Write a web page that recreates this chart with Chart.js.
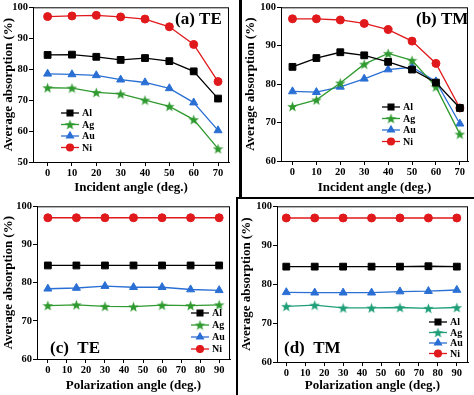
<!DOCTYPE html>
<html lang="en-US">
<head>
<meta charset="UTF-8">
<title>Average absorption</title>
<script src="https://cdn.jsdelivr.net/npm/chart.js@4.4.0/dist/chart.umd.min.js"></script>
<style>
    body { margin: 0; background: #fff; }
    #wrap { position: relative; width: 474px; height: 395px; overflow: hidden; }
    canvas { position: absolute; }
    .sep { position: absolute; background: #000; }
</style>
</head>
<body>
<div id="wrap">
    <canvas id="chartA" width="239" height="197" style="left:0;top:0"></canvas>
    <canvas id="chartB" width="232" height="197" style="left:242px;top:0"></canvas>
    <canvas id="chartC" width="236" height="196" style="left:0;top:199px"></canvas>
    <canvas id="chartD" width="236" height="196" style="left:238px;top:199px"></canvas>
    <div class="sep" style="left:239px;top:0;width:3px;height:198px"></div>
    <div class="sep" style="left:236px;top:197px;width:238px;height:2px"></div>
    <div class="sep" style="left:236px;top:197px;width:2px;height:198px"></div>
</div>

<script>
    // x values
    var incAngle = [0, 10, 20, 30, 40, 50, 60, 70];
    var polAngle = [0, 15, 30, 45, 60, 75, 90];

    // (a) TE vs incident angle
    var teIncAl = [84.6, 84.7, 84.0, 83.0, 83.6, 82.6, 79.3, 70.5];
    var teIncAg = [74.0, 73.9, 72.5, 72.0, 70.0, 68.0, 63.7, 54.3];
    var teIncAu = [78.5, 78.3, 78.0, 76.6, 75.7, 73.8, 69.2, 60.2];
    var teIncNi = [97.0, 97.2, 97.4, 96.9, 96.2, 93.7, 88.0, 76.0];

    // (b) TM vs incident angle
    var tmIncAl = [84.5, 86.8, 88.3, 87.5, 85.8, 83.8, 80.4, 73.8];
    var tmIncAg = [74.2, 75.9, 80.3, 85.2, 88.0, 86.2, 79.3, 67.0];
    var tmIncAu = [78.1, 77.9, 79.3, 81.4, 83.8, 84.4, 80.7, 69.7];
    var tmIncNi = [97.0, 97.0, 96.7, 95.8, 94.2, 91.2, 85.4, 73.8];

    // (c) TE vs polarization angle
    var tePolAl = [84.5, 84.5, 84.5, 84.5, 84.5, 84.5, 84.5];
    var tePolAg = [74.0, 74.2, 73.8, 73.7, 74.1, 74.0, 74.2];
    var tePolAu = [78.4, 78.6, 79.1, 78.8, 78.8, 78.2, 78.0];
    var tePolNi = [97.0, 97.0, 97.0, 97.0, 97.0, 97.0, 97.0];

    // (d) TM vs polarization angle
    var tmPolAl = [84.5, 84.5, 84.5, 84.5, 84.5, 84.6, 84.5];
    var tmPolAg = [74.3, 74.6, 73.9, 73.9, 74.0, 73.8, 74.0];
    var tmPolAu = [77.9, 77.8, 77.8, 77.8, 78.1, 78.2, 78.5];
    var tmPolNi = [97.0, 97.0, 97.0, 97.0, 97.0, 97.0, 97.0];

    // tick labels
    var incTicks = [0, 10, 20, 30, 40, 50, 60, 70];
    var polTicks = [0, 10, 20, 30, 40, 50, 60, 70, 80, 90];
    var yTicksA = [50, 60, 70, 80, 90, 100];
    var yTicksB = [60, 70, 80, 90, 100];

    var seriesNames = ['Al', 'Ag', 'Au', 'Ni'];

    var SERIF = "'Liberation Serif', 'DejaVu Serif', serif";

    // filled five-point star used for the Ag markers
    function makeStar(color, size) {
        var c = document.createElement('canvas');
        c.width = size; c.height = size;
        var g = c.getContext('2d');
        var cx = size / 2, cy = size / 2 + 0.5, ro = size / 2, ri = ro * 0.42;
        g.beginPath();
        for (var i = 0; i < 10; i++) {
            var r = i % 2 ? ri : ro;
            var a = -Math.PI / 2 + i * Math.PI / 5;
            g.lineTo(cx + r * Math.cos(a), cy + r * Math.sin(a));
        }
        g.closePath();
        g.fillStyle = color;
        g.fill();
        return c;
    }

    function series(xs, ys, color, style, radius) {
        return {
            data: xs.map(function (x, i) { return { x: x, y: ys[i] }; }),
            borderColor: color,
            backgroundColor: color,
            borderWidth: 1.3,
            pointStyle: style,
            pointRadius: radius,
            pointHoverRadius: radius,
            pointBorderWidth: 1,
            tension: 0
        };
    }

    function buildSets(xs, al, ag, au, ni, agColor) {
        return [
            series(xs, al, '#000000', 'rect', 4.8),
            series(xs, ag, agColor, makeStar(agColor, 11), 5),
            series(xs, au, '#2a6fd4', 'triangle', 4.6),
            series(xs, ni, '#e0191c', 'circle', 4)
        ];
    }

    // box around the plot area
    var framePlugin = {
        id: 'frame',
        afterDatasetsDraw: function (chart) {
            var a = chart.chartArea, ctx = chart.ctx;
            ctx.save();
            ctx.strokeStyle = '#000';
            ctx.lineWidth = 1;
            ctx.strokeRect(a.left + 0.5, a.top + 0.5, a.right - a.left - 1, a.bottom - a.top);
            ctx.restore();
        }
    };

    // legend with a line through each marker, plus the panel label
    var notesPlugin = {
        id: 'notes',
        afterDraw: function (chart, args, opts) {
            var ctx = chart.ctx;
            ctx.save();
            chart.data.datasets.forEach(function (ds, i) {
                var y = opts.y + i * opts.dy;
                ctx.strokeStyle = ds.borderColor;
                ctx.lineWidth = 1.3;
                ctx.beginPath();
                ctx.moveTo(opts.x - 9, y);
                ctx.lineTo(opts.x + 9, y);
                ctx.stroke();
                ctx.fillStyle = ds.backgroundColor;
                Chart.helpers.drawPoint(ctx, {
                    pointStyle: ds.pointStyle,
                    radius: ds.pointRadius * 0.85,
                    rotation: 0,
                    borderWidth: 1
                }, opts.x, y);
                ctx.fillStyle = '#000';
                ctx.font = 'bold 10px ' + SERIF;
                ctx.textBaseline = 'middle';
                ctx.textAlign = 'left';
                ctx.fillText(seriesNames[i], opts.x + 12, y + 0.5);
            });
            ctx.font = 'bold 17px ' + SERIF;
            ctx.fillStyle = '#000';
            ctx.textBaseline = 'middle';
            ctx.fillText(opts.label, opts.lx, opts.ly);
            ctx.restore();
        }
    };

    function makeChart(id, cfg) {
        var tickFont = { family: SERIF, size: 10.5, weight: 'bold' };
        var titleFont = { family: SERIF, size: 13, weight: 'bold' };
        return new Chart(document.getElementById(id).getContext('2d'), {
            type: 'line',
            data: { datasets: cfg.sets },
            options: {
                responsive: false,
                animation: false,
                devicePixelRatio: 1,
                layout: { padding: { top: cfg.top, right: cfg.right, left: 0, bottom: 0 } },
                plugins: {
                    legend: { display: false },
                    tooltip: { enabled: false },
                    notes: cfg.notes
                },
                scales: {
                    x: {
                        type: 'linear',
                        min: cfg.xmin,
                        max: cfg.xmax,
                        afterBuildTicks: function (s) { s.ticks = cfg.xticks.map(function (v) { return { value: v }; }); },
                        afterFit: function (s) { s.height = cfg.xh; },
                        ticks: { font: tickFont, color: '#000', padding: 1, maxRotation: 0, autoSkip: false },
                        grid: { drawOnChartArea: false, tickLength: 4, color: '#000' },
                        border: { color: '#000', width: 1 },
                        title: { display: true, text: cfg.xtitle, font: titleFont, color: '#000', padding: { top: 0, bottom: 2 } }
                    },
                    y: {
                        min: cfg.ymin,
                        max: 100,
                        afterBuildTicks: function (s) { s.ticks = cfg.yticks.map(function (v) { return { value: v }; }); },
                        afterFit: function (s) { s.width = cfg.yw; },
                        ticks: { font: tickFont, color: '#000', padding: 1, autoSkip: false },
                        grid: { drawOnChartArea: false, tickLength: 4, color: '#000' },
                        border: { color: '#000', width: 1 },
                        title: { display: true, text: 'Average absorption (%)', font: titleFont, color: '#000', padding: { top: 1, bottom: 0 } }
                    }
                }
            },
            plugins: [framePlugin, notesPlugin]
        });
    }

    makeChart('chartA', {
        sets: buildSets(incAngle, teIncAl, teIncAg, teIncAu, teIncNi, '#2f9a2f'),
        xmin: -6, xmax: 74.5, xticks: incTicks, xtitle: 'Incident angle (deg.)',
        ymin: 50, yticks: yTicksA,
        top: 6, right: 10, xh: 35, yw: 33,
        notes: { x: 70, y: 113, dy: 11.5, label: '(a) TE', lx: 175, ly: 20 }
    });

    makeChart('chartB', {
        sets: buildSets(incAngle, tmIncAl, tmIncAg, tmIncAu, tmIncNi, '#2f9a2f'),
        xmin: -4.8, xmax: 73.4, xticks: incTicks, xtitle: 'Incident angle (deg.)',
        ymin: 60, yticks: yTicksB,
        top: 5, right: 3, xh: 36, yw: 39,
        notes: { x: 149, y: 107, dy: 11.5, label: '(b) TM', lx: 174, ly: 20 }
    });

    makeChart('chartC', {
        sets: buildSets(polAngle, tePolAl, tePolAg, tePolAu, tePolNi, '#2f9a2f'),
        xmin: -5.7, xmax: 95.7, xticks: polTicks, xtitle: 'Polarization angle (deg.)',
        ymin: 60, yticks: yTicksB,
        top: 5, right: 3, xh: 36, yw: 37,
        notes: { x: 200, y: 114, dy: 12, label: '(c)  TE', lx: 50, ly: 150 }
    });

    makeChart('chartD', {
        sets: buildSets(polAngle, tmPolAl, tmPolAg, tmPolAu, tmPolNi, '#1f9f78'),
        xmin: -4.9, xmax: 95.9, xticks: polTicks, xtitle: 'Polarization angle (deg.)',
        ymin: 60, yticks: yTicksB,
        top: 4, right: 0, xh: 33, yw: 39,
        notes: { x: 200, y: 123, dy: 10.5, label: '(d)  TM', lx: 46, ly: 150 }
    });
</script>
</body>
</html>
